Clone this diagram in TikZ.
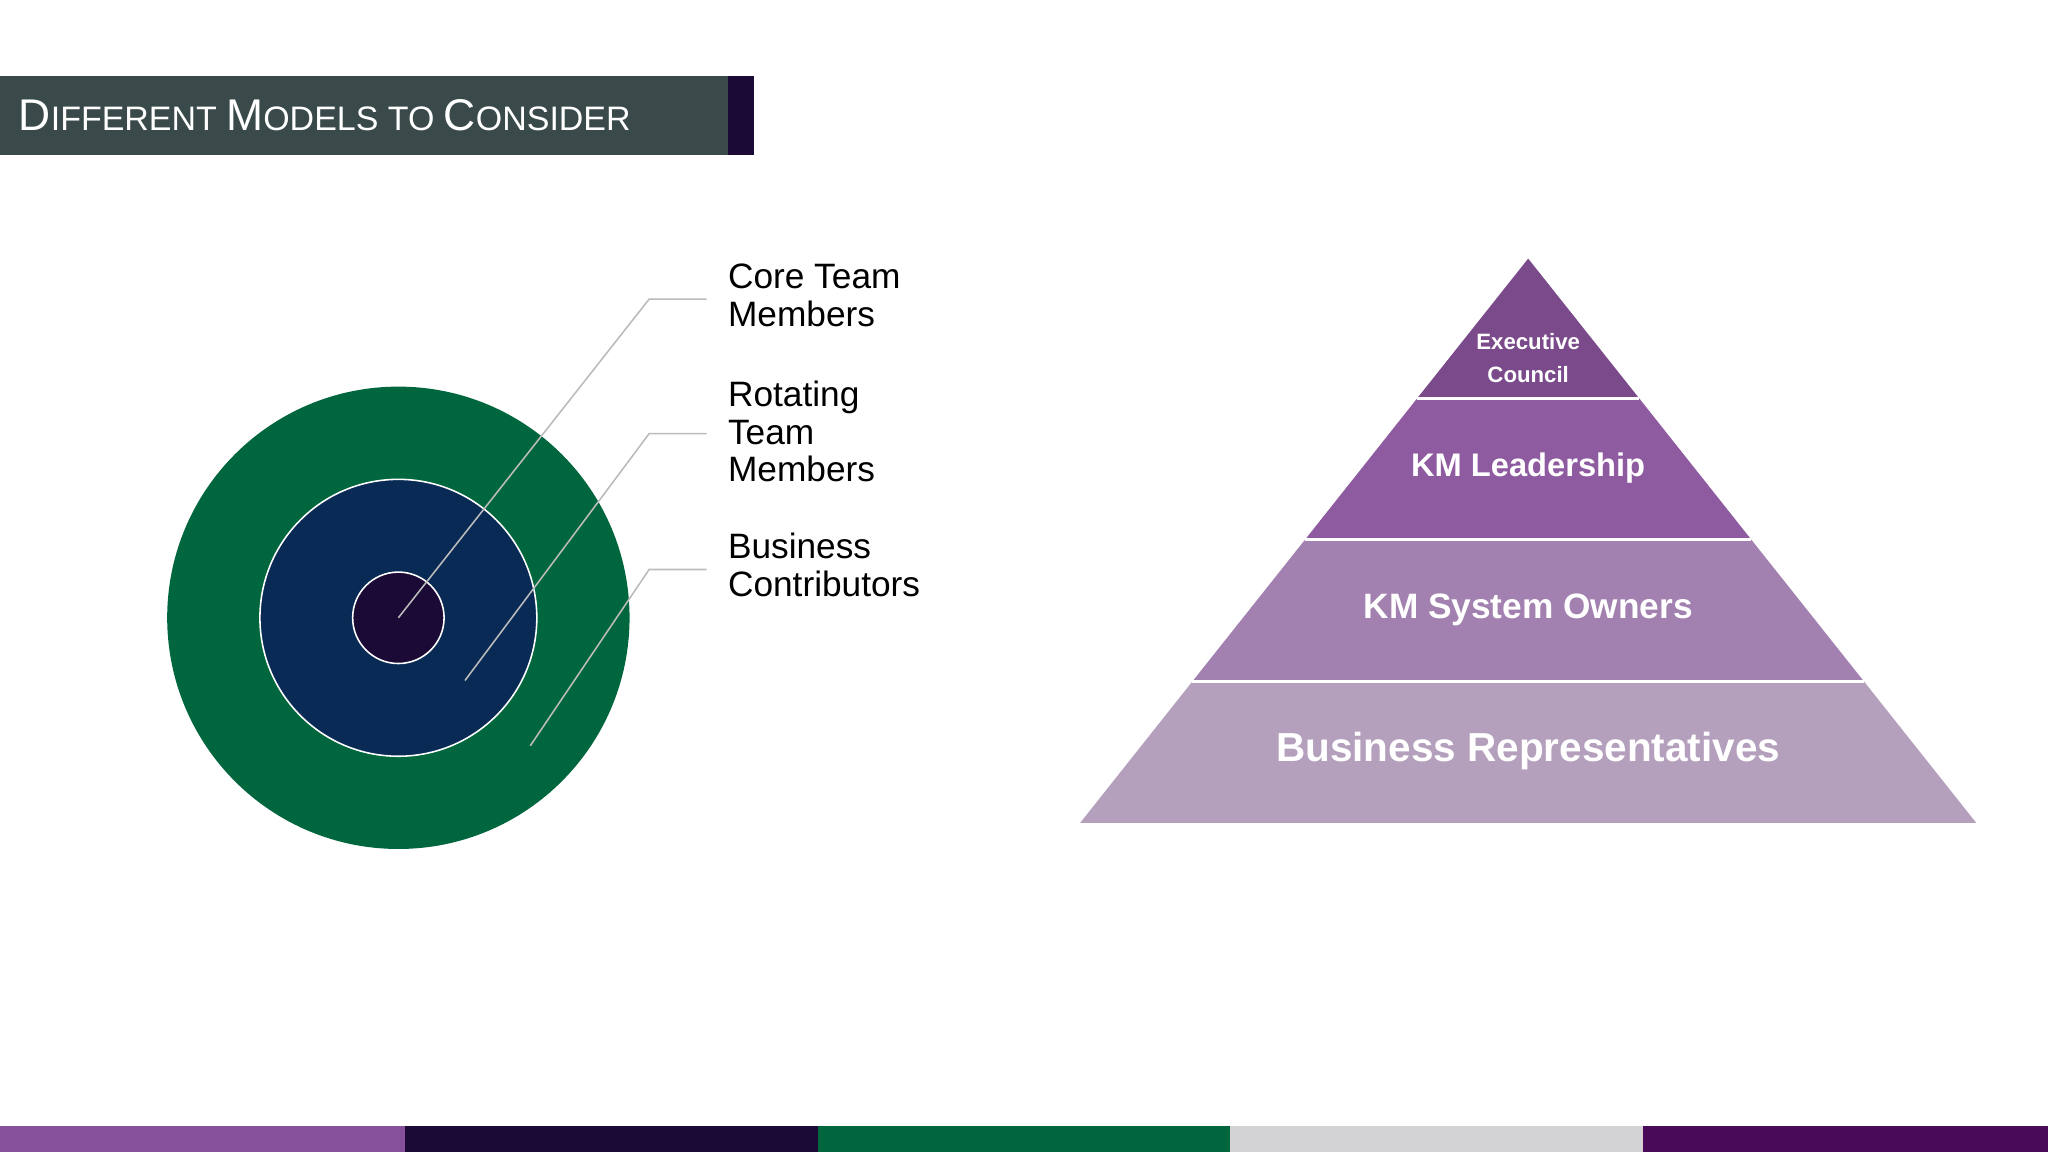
\documentclass[tikz,border=0pt]{standalone}
\usepackage{fontspec}
\setmainfont{Liberation Sans}
\definecolor{titlebg}{HTML}{3A4A4A}
\definecolor{darkp}{HTML}{1A0A35}
\definecolor{kgreen}{HTML}{00663D}
\definecolor{knavy}{HTML}{082A55}
\definecolor{p1}{HTML}{7A4A8A}
\definecolor{p2}{HTML}{8E5BA0}
\definecolor{p3}{HTML}{A281B0}
\definecolor{p4}{HTML}{B4A0BD}
\definecolor{bpurple}{HTML}{86509A}
\definecolor{bgray}{HTML}{D3D2D4}
\definecolor{bdeep}{HTML}{4A0A5A}
\definecolor{leader}{HTML}{BBBBBB}
\tikzset{lbl/.style={anchor=north west,align=left,inner sep=0pt,font=\fontsize{13.5pt}{14.5pt}\selectfont},
pyr/.style={text=white,font=\bfseries,align=center},
lead/.style={draw=leader,line width=0.6pt}}
\begin{document}
\begin{tikzpicture}[x=0.5pt,y=-0.5pt]
\useasboundingbox (0,0) rectangle (1568,882);
\fill[white] (0,0) rectangle (1568,882);
% title
\fill[titlebg] (0,58) rectangle (557,119);
\fill[darkp] (557,58) rectangle (577,119);
\node[anchor=base west,text=white,inner sep=0pt] (title) at (14,100)
 {\fontsize{17pt}{20pt}\selectfont D\fontsize{13pt}{20pt}\selectfont IFFERENT \fontsize{17pt}{20pt}\selectfont M\fontsize{13pt}{20pt}\selectfont ODELS TO \fontsize{17pt}{20pt}\selectfont C\fontsize{13pt}{20pt}\selectfont ONSIDER};
% circles
\fill[kgreen] (305,473) circle[radius=177];
\draw[white,line width=0.6pt,fill=knavy] (305,473) circle[radius=106];
\draw[white,line width=0.6pt,fill=darkp] (305,473) circle[radius=35];
\coordinate (c1) at (305,473); \coordinate (c2) at (356,521); \coordinate (c3) at (406,571);
\coordinate (k1) at (497,229); \coordinate (k2) at (497,332); \coordinate (k3) at (497,436);
\coordinate (e1) at (541,229); \coordinate (e2) at (541,332); \coordinate (e3) at (541,436);
\draw[lead] (c1)--(k1)--(e1);
\draw[lead] (c2)--(k2)--(e2);
\draw[lead] (c3)--(k3)--(e3);
\node[lbl] (l1) at (557,202) {Core Team\\Members};
\node[lbl] (l2) at (557,291) {Rotating\\Team\\Members};
\node[lbl] (l3) at (557,408) {Business\\Contributors};
% pyramid
\fill[p4] (827,630)--(1513,630)--(1427.3,522)--(912.7,522)--cycle;
\fill[p3] (912.7,522)--(1427.3,522)--(1340.7,413)--(999.3,413)--cycle;
\fill[p2] (999.3,413)--(1340.7,413)--(1255,305)--(1085,305)--cycle;
\fill[p1] (1085,305)--(1255,305)--(1170,198)--cycle;
\draw[white,line width=1pt] (912.7,522)--(1427.3,522) (999.3,413)--(1340.7,413) (1085,305)--(1255,305);
\node[pyr,font=\bfseries\fontsize{8.5pt}{12.5pt}\selectfont] (t1) at (1170,274) {Executive\\Council};
\node[pyr,font=\bfseries\fontsize{12.5pt}{14pt}\selectfont] (t2) at (1170,358) {KM Leadership};
\node[pyr,font=\bfseries\fontsize{13.5pt}{15pt}\selectfont] (t3) at (1170,467) {KM System Owners};
\node[pyr,font=\bfseries\fontsize{15.5pt}{17pt}\selectfont] (t4) at (1170,575) {Business Representatives};
% bottom bars
\fill[bpurple] (0,862) rectangle (310,882);
\fill[darkp] (310,862) rectangle (626,882);
\fill[kgreen] (626,862) rectangle (942,882);
\fill[bgray] (942,862) rectangle (1258,882);
\fill[bdeep] (1258,862) rectangle (1568,882);
\end{tikzpicture}
\end{document}
